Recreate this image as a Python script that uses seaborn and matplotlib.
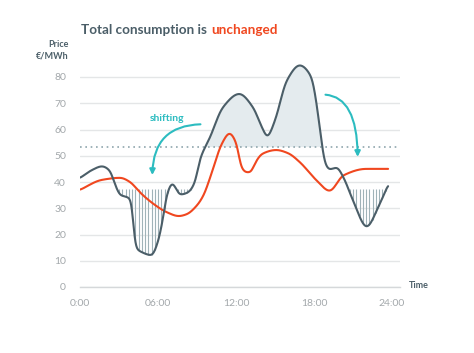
import matplotlib
matplotlib.use("Agg")
import matplotlib.pyplot as plt
import seaborn as sns
import numpy as np
from matplotlib.patches import FancyArrowPatch

# Price (EUR/MWh) over the day
price_hours = [0.0, 0.9, 1.7, 2.3, 2.7, 3.1, 3.6, 3.97, 4.23, 4.74, 5.51, 6.03, 6.4, 6.67, 7.1,
               7.7, 8.3, 8.85, 9.2, 10.0, 11.0, 12.25, 13.3, 14.0, 14.4, 15.0, 15.9, 16.9,
               17.8, 18.2, 18.6, 18.85, 19.2, 19.75, 20.25, 21.0, 22.05, 22.95, 23.7]
price_values = [41.5, 44.5, 46.0, 44.3, 39.0, 35.0, 34.3, 33.0, 15.5, 13.3, 12.1, 17.8, 26.6, 35.0, 39.5,
                35.2, 36.0, 40.0, 48.2, 57.0, 68.5, 73.6, 68.5, 60.8, 57.3, 63.5, 78.6, 84.5,
                80.0, 69.8, 54.5, 47.0, 44.8, 45.5, 41.9, 33.0, 22.9, 30.5, 39.0]

# Price after shifting consumption
shifted_hours = [0.0, 1.67, 3.1, 3.85, 4.6, 5.64, 6.67, 7.6, 8.2, 9.0, 9.5, 10.1, 10.9, 11.5, 12.05,
                 12.4, 12.8, 13.1, 13.5, 14.0, 15.1, 16.0, 16.9, 18.2, 19.2, 20.25, 22.0, 23.7]
shifted_values = [37.0, 40.8, 41.6, 40.0, 36.1, 31.7, 28.5, 27.0, 27.7, 31.1, 34.9, 43.0, 54.5, 58.6, 54.5,
                  45.6, 43.7, 43.7, 47.5, 50.7, 52.2, 51.0, 47.6, 40.6, 36.6, 42.5, 45.0, 45.0]

average_price = 53.5
low_level = 37.5

x_ticks = [0, 6, 12, 18, 24]
x_labels = ["0:00", "06:00", "12:00", "18:00", "24:00"]
y_ticks = [0, 10, 20, 30, 40, 50, 60, 70, 80]

slate = "#4b5e68"
red = "#f0471f"
teal = "#2cbcc0"
tick_grey = "#a3a8ab"


def smooth(x, y, n=1200, sigma=0.13):
    # monotone cubic (Fritsch-Carlson) + light gaussian blur, only for drawing the curve
    x = np.asarray(x, float)
    y = np.asarray(y, float)
    h = np.diff(x)
    delta = np.diff(y) / h
    m = np.zeros(len(x))
    m[0], m[-1] = delta[0], delta[-1]
    for i in range(1, len(x) - 1):
        if delta[i - 1] * delta[i] > 0:
            w1 = 2 * h[i] + h[i - 1]
            w2 = h[i] + 2 * h[i - 1]
            m[i] = (w1 + w2) / (w1 / delta[i - 1] + w2 / delta[i])
    xs = np.linspace(x[0], x[-1], n)
    idx = np.clip(np.searchsorted(x, xs) - 1, 0, len(x) - 2)
    t = (xs - x[idx]) / h[idx]
    h00 = 2 * t ** 3 - 3 * t ** 2 + 1
    h10 = t ** 3 - 2 * t ** 2 + t
    h01 = -2 * t ** 3 + 3 * t ** 2
    h11 = t ** 3 - t ** 2
    ys = h00 * y[idx] + h10 * h[idx] * m[idx] + h01 * y[idx + 1] + h11 * h[idx] * m[idx + 1]
    step = xs[1] - xs[0]
    k = int(4 * sigma / step)
    kern = np.exp(-0.5 * (np.arange(-k, k + 1) * step / sigma) ** 2)
    kern /= kern.sum()
    padded = np.concatenate([np.full(k, ys[0]), ys, np.full(k, ys[-1])])
    ys = np.convolve(padded, kern, mode="valid")
    return xs, ys


sns.set_style("white")
plt.rcParams["font.family"] = ["Lato", "DejaVu Sans"]

fig = plt.figure(figsize=(4.74, 3.53), dpi=100)
ax = fig.add_axes([80 / 474, 66 / 353, 320 / 474, 236.25 / 353])

px, py = smooth(price_hours, price_values)
sx, sy = smooth(shifted_hours, shifted_values)

# shaded area above the average
ax.fill_between(px, average_price, py, where=py > average_price, color="#e4ebee", lw=0, zorder=1)

# vertical hatching below the low level
hatch_x = np.arange(0, 24, 0.25)
hatch_y = np.interp(hatch_x, px, py)
mask = (hatch_y < low_level) & (hatch_x <= price_hours[-1])
ax.vlines(hatch_x[mask], hatch_y[mask], low_level, color="#9fb2b8", lw=0.8, zorder=1)

ax.axhline(average_price, xmin=0, xmax=1, color="#8fa6ad", lw=1.2, ls=(0, (1, 2.2)), zorder=2)

sns.lineplot(x=sx, y=sy, color=red, lw=1.5, ax=ax, zorder=3)
sns.lineplot(x=px, y=py, color=slate, lw=1.5, ax=ax, zorder=4)

# arrows
ax.add_patch(FancyArrowPatch((9.48, 62.0), (5.56, 41.6), connectionstyle="angle3,angleA=0,angleB=90",
                             arrowstyle="-|>", mutation_scale=8, color=teal, lw=1.5, zorder=5))
ax.add_patch(FancyArrowPatch((18.67, 73.3), (21.36, 48.5), connectionstyle="angle3,angleA=0,angleB=90",
                             arrowstyle="-|>", mutation_scale=8, color=teal, lw=1.5, zorder=5))
ax.text(6.7, 64.3, "shifting", color=teal, fontsize=7.5, fontweight="bold", ha="center", va="center")

ax.set_xlim(0, 24.615)
ax.set_ylim(0, 90)
ax.set_xticks(x_ticks)
ax.set_xticklabels(x_labels)
ax.set_yticks(y_ticks)
ax.set_xlabel("")
ax.set_ylabel("")

ax.grid(axis="y", color="#e4e6e7", lw=1)
ax.grid(axis="x", visible=False)
for s in ["top", "right", "left"]:
    ax.spines[s].set_visible(False)
ax.spines["bottom"].set_color("#d5d8da")
ax.spines["bottom"].set_linewidth(1)
ax.tick_params(axis="y", length=0, pad=10, labelsize=7.5, labelcolor=tick_grey)
ax.tick_params(axis="x", length=4, width=0.8, color="#d5d8da", direction="out", pad=5,
               labelsize=7.5, labelcolor=tick_grey)

# title in two colours
t1 = fig.text(81 / 474, 1 - 34 / 353, "Total consumption is", color=slate, fontsize=9.7,
              fontweight="bold", ha="left", va="baseline")
ax.annotate("unchanged", xy=(1, 0), xycoords=t1, xytext=(2.8, 0), textcoords="offset points",
            color=red, fontsize=9.7, fontweight="bold", ha="left", va="bottom", annotation_clip=False)

fig.text(69 / 474, 1 - 50 / 353, "Price\n€/MWh", color=slate, fontsize=6.5, fontweight="bold",
         ha="right", va="center", linespacing=1.3)
fig.text(409 / 474, 1 - 285.5 / 353, "Time", color=slate, fontsize=6.5, fontweight="bold",
         ha="left", va="center")

fig.savefig("out.png", dpi=100)
